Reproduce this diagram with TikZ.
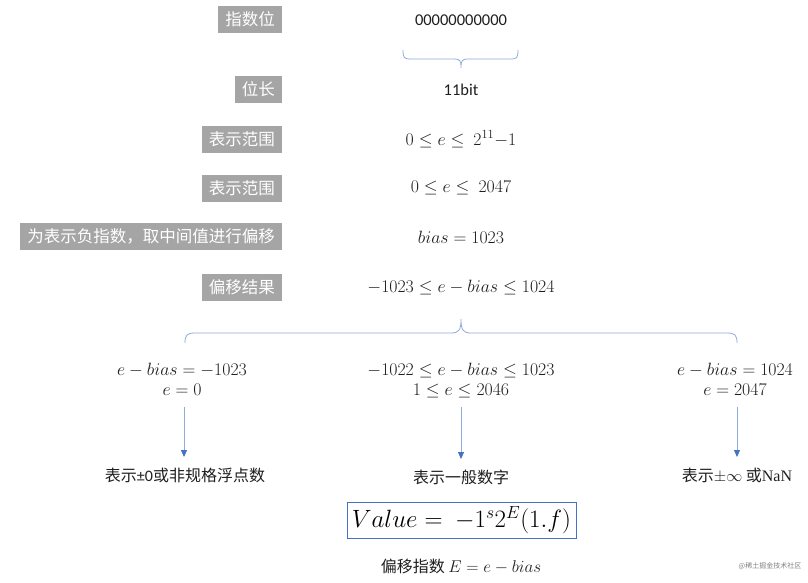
\RequirePackage{fix-cm}
\documentclass[tikz,border=0pt]{standalone}
\usepackage[no-math]{fontspec}
\setmainfont{Carlito}
\newfontfamily\cjk{Noto Sans CJK SC}
\newfontfamily\nanfont{Liberation Serif}
\usetikzlibrary{arrows.meta}
\definecolor{boxgray}{HTML}{A5A5A5}
\definecolor{lineblue}{HTML}{8FAADC}
\definecolor{tipblue}{HTML}{4472C4}
\definecolor{txt}{HTML}{1F1F1F}
\tikzset{
  lab/.style={fill=boxgray, text=white, font=\cjk\fontsize{16.5}{19}\selectfont, inner xsep=7pt, inner ysep=0pt, minimum height=27pt, anchor=east},
  sval/.style={text=txt, font=\fontsize{16.5}{20}\selectfont, inner sep=0pt, align=center},
  val/.style={text=txt, font=\fontsize{17.8}{20}\selectfont, inner sep=0pt, align=center},
  res/.style={text=txt, font=\cjk\fontsize{16}{19}\selectfont, inner sep=0pt},
  bracepath/.style={draw=lineblue, line width=0.8pt},
  arr/.style={draw=lineblue, line width=0.8pt, -{Triangle[length=7pt,width=6pt,color=tipblue]}},
  vbox/.style={draw=tipblue, line width=1pt, minimum width=229pt, minimum height=36pt, inner sep=0pt, font=\fontsize{25}{27}\selectfont}
}
\begin{document}
\begin{tikzpicture}[x=1pt,y=-1pt]
\useasboundingbox (0,0) rectangle (808,582);
% left labels
\node[lab] (l1) at (282,19) {指数位};
\node[lab] (l2) at (282,89.5) {位长};
\node[lab] (l3) at (282,139) {表示范围};
\node[lab] (l4) at (282,188.5) {表示范围};
\node[lab] (l5) at (282,236.5) {为表示负指数，取中间值进行偏移};
\node[lab] (l6) at (282,287.5) {偏移结果};
% right values
\node[sval] (r1) at (461,20) {00000000000};
\node[sval] (r2) at (461,90) {11bit};
\node[val] (r3) at (461,139) {$0\le e\le\ 2^{11}{-}1$};
\node[val] (r4) at (461,188) {$0\le e\le\ 2047$};
\node[val] (r5) at (461,237) {$bias=1023$};
\node[val] (r6) at (461,288) {$-1023\le e-bias\le 1024$};
% small brace
\draw[bracepath] (403,50) .. controls (403,58) and (404,59) .. (411,59) -- (453,59)
  .. controls (460,59) and (461,60) .. (461,68)
  .. controls (461,60) and (462,59) .. (469,59) -- (510,59)
  .. controls (517,59) and (518,58) .. (518,50);
% big brace
\draw[bracepath] (185,343) .. controls (185,335) and (187,333) .. (195,333) -- (451,333)
  .. controls (459,333) and (461,330) .. (461,319)
  .. controls (461,330) and (463,333) .. (471,333) -- (727,333)
  .. controls (735,333) and (737,335) .. (737,343);
% cases
\node[val] (c1) at (182,379) {$e-bias=-1023$\\[0pt]$e=0$};
\node[val] (c2) at (461,381) {$-1022\le e-bias\le 1023$\\[0pt]$1\le e\le 2046$};
\node[val] (c3) at (735,379) {$e-bias=1024$\\[0pt]$e=2047$};
% results
\node[res] (d1) at (185,475) {表示{\fontspec{Carlito}±0}或非规格浮点数};
\node[res] (d2) at (461,477) {表示一般数字};
\node[res] (d3) at (737,475) {表示$\pm\infty$ 或{\nanfont NaN}};
% arrows
\coordinate (a1) at (184,407); \coordinate (b1) at (184,457);
\coordinate (a2) at (461,407); \coordinate (b2) at (461,459);
\coordinate (a3) at (737,407); \coordinate (b3) at (737,457);
\draw[arr] (a1) -- (b1);
\draw[arr] (a2) -- (b2);
\draw[arr] (a3) -- (b3);
% value box
\node[vbox] (v) at (461.5,520) {$Value=\ -1^{s}2^{E}(1.f)$};
\node[res] (bot) at (461,566) {偏移指数 {\fontsize{17}{19}\selectfont$E=e-bias$}};
\node[text=gray, font=\cjk\fontsize{7}{8}\selectfont, inner sep=0pt] (wm) at (770,566) {@稀土掘金技术社区};
\end{tikzpicture}
\end{document}
